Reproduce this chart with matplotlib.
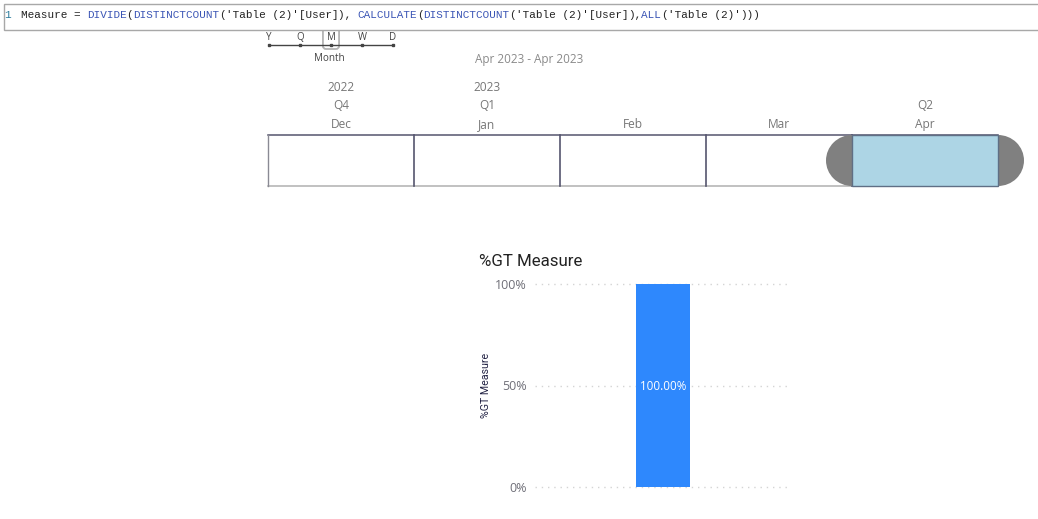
import matplotlib
matplotlib.use("Agg")
import matplotlib.pyplot as plt
from matplotlib.patches import Ellipse, FancyBboxPatch, Rectangle

W, H = 1038, 519

# formula bar, (text, colour) pieces
line_number = "1"
formula_parts = [
    ("Measure = ", "#222222"),
    ("DIVIDE", "#3b55b5"),
    ("(", "#222222"),
    ("DISTINCTCOUNT", "#3b55b5"),
    ("(", "#222222"),
    ("'Table (2)'[User]", "#222222"),
    ("), ", "#222222"),
    ("CALCULATE", "#3b55b5"),
    ("(", "#222222"),
    ("DISTINCTCOUNT", "#3b55b5"),
    ("(", "#222222"),
    ("'Table (2)'[User]", "#222222"),
    ("),", "#222222"),
    ("ALL", "#3b55b5"),
    ("(", "#222222"),
    ("'Table (2)'", "#222222"),
    (")))", "#222222"),
]

# slicer
levels = ["Y", "Q", "M", "W", "D"]
level_selected = "M"
level_name = "Month"
period_text = "Apr 2023 - Apr 2023"
months = ["Dec", "Jan", "Feb", "Mar", "Apr"]
quarters = ["Q4", "Q1", "", "", "Q2"]
years = ["2022", "2023", "", "", ""]
selected_month = "Apr"

# bar chart
categories = ["All"]
gt_measure = [100]
y_ticks = [0, 50, 100]
chart_title = "%GT Measure"
y_label = "%GT Measure"
bar_label = "100.00%"

GREY = "#777777"
NAVY = "#55556e"


def axes_px(fig, left, top, right, bottom):
    return fig.add_axes([left / W, 1 - bottom / H, (right - left) / W, (bottom - top) / H])


def draw_formula(ax):
    ax.add_patch(Rectangle((3.5, 3.5), W, 26, fc="white", ec="#a8a8a8", lw=1))
    ax.text(4, 15.5, line_number, family="Liberation Mono", fontsize=7.9, color="#2b7a9b", va="center")
    cw = 6.6
    pos = 0
    for txt, col in formula_parts:
        ax.text(21 + pos * cw, 15.5, txt, family="Liberation Mono", fontsize=7.9,
                color=col, va="center")
        pos += len(txt)


def draw_levels(fig):
    ax = axes_px(fig, 269, 27, 393, 64)
    ax.set_xlim(0, len(levels) - 1)
    ax.set_ylim(37, 0)
    ax.axis("off")
    xs = list(range(len(levels)))
    sel = levels.index(level_selected)
    ax.add_patch(FancyBboxPatch((sel - 0.26, -3), 0.52, 25, boxstyle="round,pad=0,rounding_size=0.1",
                                mutation_aspect=31, fc="white", ec="#b4b4b4", lw=1.3,
                                clip_on=False, zorder=1))
    ax.plot(xs, [18] * len(xs), color="#444444", lw=1, marker="s", ms=1.6, clip_on=False, zorder=2)
    for x, lab in zip(xs, levels):
        ax.text(x, 10.5, lab, ha="center", va="center", fontsize=7, color="#444444",
                family="Open Sans", clip_on=False, zorder=3)
    ax.text(sel - 0.05, 31.5, level_name, ha="center", va="center", fontsize=7.1, color="#444444",
            family="Open Sans")


def draw_timeline(fig):
    ax = axes_px(fig, 268, 135, 998, 186)
    ax.set_xlim(0, len(months))
    ax.set_ylim(0, 1)
    ax.axis("off")
    n = len(months)
    sel = months.index(selected_month)
    ax.plot([0, n], [1, 1], color=NAVY, lw=1.1, clip_on=False)
    ax.plot([0, n], [0, 0], color="#b0b0b0", lw=1.1, clip_on=False)
    ax.plot([0, 0], [0, 1], color="#8a8a94", lw=1, clip_on=False)
    for i in range(1, n):
        ax.plot([i, i], [0, 1], color=NAVY, lw=1.2, clip_on=False)
    for x in (sel, sel + 1):
        ax.add_patch(Ellipse((x, 0.5), 52 / 146, 1, fc="#808080", ec="none", clip_on=False, zorder=3))
    ax.add_patch(Rectangle((sel, 0), 1, 1, fc="#add5e5", ec="#5f6f85", lw=1, clip_on=False, zorder=4))
    for i in range(n):
        for lab, dy in ((months[i], 7), (quarters[i], 26), (years[i], 44)):
            ax.annotate(lab, (i + 0.5, 1), xytext=(0, dy * 0.72), textcoords="offset points",
                        ha="center", va="baseline", fontsize=8.6, color=GREY, family="Open Sans")


def draw_chart(fig):
    ax = axes_px(fig, 535, 284, 791, 487)
    ax.set_xlim(-0.5, 0.5)
    ax.set_ylim(0, 100)
    ax.bar(range(len(categories)), gt_measure, width=54 / 256, color="#2e88fd", zorder=2)
    ax.annotate(bar_label, (0, 50), xytext=(0, -0.7), textcoords="offset points", ha="center", va="center",
                color="white", fontsize=8.4, family="Open Sans", zorder=3)
    ax.set_yticks(y_ticks, [f"{v}%" for v in y_ticks])
    ax.set_xticks([])
    ax.tick_params(axis="y", length=0, pad=6, labelsize=9, labelcolor="#6f6f78")
    for lab in ax.get_yticklabels():
        lab.set_family("Open Sans")
    ax.grid(axis="y", color="#d4d4d4", linestyle=(0, (1, 3.5)), lw=1, clip_on=False)
    ax.set_axisbelow(True)
    for s in ax.spines.values():
        s.set_visible(False)
    ax.set_ylabel(y_label, fontsize=7.7, color="#222244", family="Roboto", labelpad=0)
    ax.yaxis.set_label_coords((491 - 535) / 256, 0.5)
    fig.text(479 / W, 1 - 261 / H, chart_title, fontsize=12.2, color="#222222", family="Roboto",
             va="center", ha="left")


if __name__ == '__main__':
    fig = plt.figure(figsize=(W / 100, H / 100), dpi=100)
    bg = fig.add_axes([0, 0, 1, 1])
    bg.set_xlim(0, W)
    bg.set_ylim(H, 0)
    bg.axis("off")
    bg.set_zorder(5)

    draw_levels(fig)
    draw_formula(bg)
    bg.text(529, 60, period_text, ha="center", va="center", fontsize=8.5, color="#8a8a8a", family="Open Sans")
    draw_timeline(fig)
    draw_chart(fig)

    fig.savefig("out.png", dpi=100)
